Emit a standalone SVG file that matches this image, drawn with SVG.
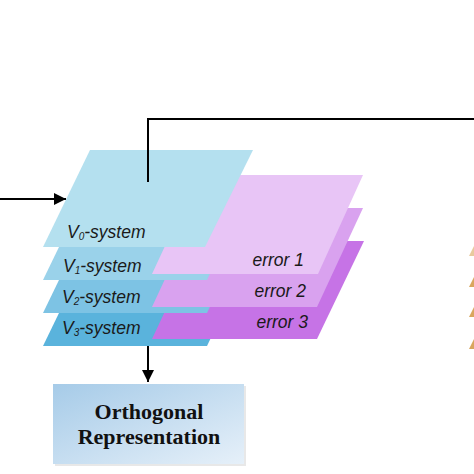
<svg xmlns="http://www.w3.org/2000/svg" width="474" height="474" viewBox="0 0 474 474">
<style>
.lbl{font-family:"Liberation Sans","DejaVu Sans",sans-serif;font-style:italic;font-size:17.5px;fill:#1a1a1a}
.sub{font-size:10px}
.conn{stroke:#000;stroke-width:2;fill:none}
.title{font-family:"Liberation Serif","Times New Roman",serif;font-weight:bold;font-size:22px;fill:#111;text-anchor:middle}
.tri{fill:#d9a65e}
</style>
<defs>
<marker id="arr" viewBox="0 0 10 10" refX="10" refY="5" markerWidth="6" markerHeight="6" orient="auto" markerUnits="strokeWidth">
<path d="M0,0 L10,5 L0,10 z" fill="#000"/>
</marker>
<linearGradient id="boxg" x1="0" y1="0" x2="1" y2="1">
<stop offset="0" stop-color="#a6cbe8"/>
<stop offset="1" stop-color="#e6f0f9"/>
</linearGradient>
</defs>
<rect width="474" height="474" fill="#fff"/>

<g id="v3"><polygon points="90,249 253,249 207,346 43,346" fill="#5ab3dc"/><text class="lbl" x="62" y="334">V<tspan class="sub" dy="2">3</tspan><tspan dy="-2">-system</tspan></text></g>
<g id="error3"><polygon points="198,241 364,241 317,339 152,339" fill="#c673e6"/><text class="lbl" x="308" y="328" text-anchor="end">error 3</text></g>
<g id="v2"><polygon points="90,216 253,216 207,313 43,313" fill="#7dc3e4"/><text class="lbl" x="62" y="303">V<tspan class="sub" dy="2">2</tspan><tspan dy="-2">-system</tspan></text></g>
<g id="error2"><polygon points="198,208 363,208 317,307 152,307" fill="#d9a2ef"/><text class="lbl" x="306" y="297" text-anchor="end">error 2</text></g>
<g id="v1"><polygon points="90,183 253,183 207,280 43,280" fill="#9ad2ea"/><text class="lbl" x="63" y="272">V<tspan class="sub" dy="2">1</tspan><tspan dy="-2">-system</tspan></text></g>
<g id="error1"><polygon points="198,175 363,175 318,274 152,274" fill="#e8c5f6"/><text class="lbl" x="304" y="266" text-anchor="end">error 1</text></g>
<g id="v0"><polygon points="90,150 253,150 205,247 43,247" fill="#b4e0ef"/><text class="lbl" x="67" y="238">V<tspan class="sub" dy="2">0</tspan><tspan dy="-2">-system</tspan></text></g>

<g id="ortho">
<rect x="55" y="386" width="191" height="80" fill="#e8e8e8"/>
<rect x="53" y="384" width="191" height="80" fill="url(#boxg)"/>
<text class="title" x="149" y="419">Orthogonal</text>
<text class="title" x="149" y="444">Representation</text>
</g>

<g id="connectors">
<path class="conn" d="M0,199 H66" marker-end="url(#arr)"/>
<path class="conn" d="M148,182 V119 H474"/>
<path class="conn" d="M148,346 V382" marker-end="url(#arr)"/>
</g>

<g id="right-marks">
<polygon class="tri" points="474,246 469,256 474,256" opacity="0.6"/>
<polygon class="tri" points="474,277 469,287 474,287"/>
<polygon class="tri" points="474,307 469,317 474,317"/>
<polygon class="tri" points="474,339 469,349 474,349"/>
</g>
</svg>
